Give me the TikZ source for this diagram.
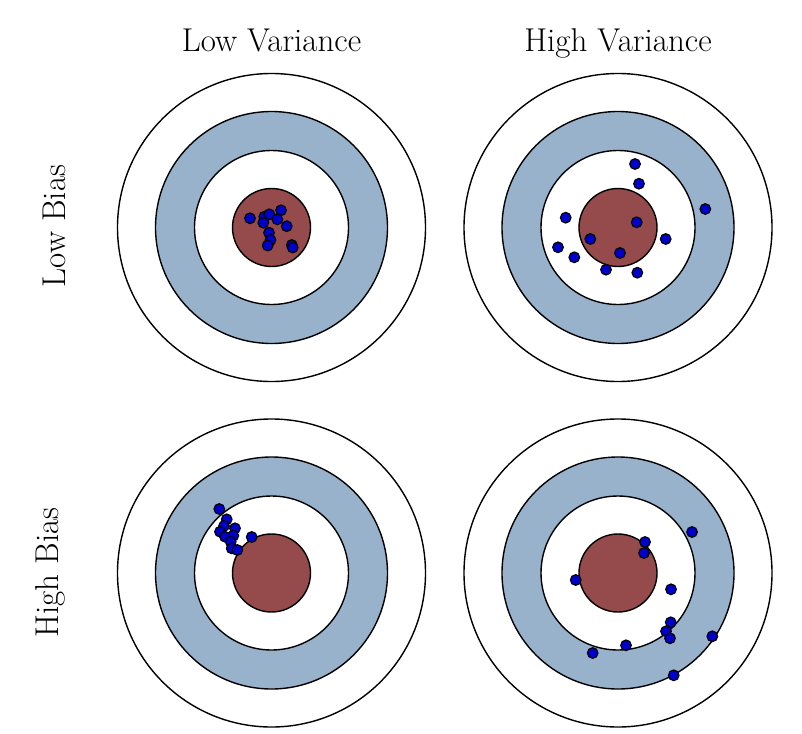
\documentclass[tikz,border=0pt]{standalone}
\usepackage{tikz}
\definecolor{ringblue}{HTML}{98B2CC}
\definecolor{bullred}{HTML}{954B4B}
\definecolor{dotblue}{HTML}{0000CC}
\tikzset{
  ring/.style={draw=black, line width=1.4pt},
  shot/.style={draw=black, fill=dotblue, line width=1.2pt},
  header/.style={font=\fontsize{33}{40}\selectfont, anchor=base, inner sep=0pt},
  sidelabel/.style={font=\fontsize{33}{40}\selectfont, anchor=base, rotate=90, inner sep=0pt}
}
\newcommand{\drawtarget}[2]{%
  \fill[ring, fill=white] (#1,#2) circle (154pt);
  \fill[ring, fill=ringblue] (#1,#2) circle (116pt);
  \fill[ring, fill=white] (#1,#2) circle (77pt);
  \fill[ring, fill=bullred] (#1,#2) circle (39pt);
}
\begin{document}
\begin{tikzpicture}[x=1pt,y=-1pt]
\useasboundingbox (0,0) rectangle (802,733);
% targets
\drawtarget{271.5}{227.5}
\drawtarget{618}{227.5}
\drawtarget{271.5}{573}
\drawtarget{618}{573}
% labels
\node[header] (lowvar) at (271.5,52) {Low Variance};
\node[header] (highvar) at (618,52) {High Variance};
\node[sidelabel] (lowbias) at (65,226) {Low Bias};
\node[sidelabel] (highbias) at (58.5,572.5) {High Bias};
% low bias, low variance
\foreach \x/\y in {250/218.3, 264.3/216.7, 263.3/222.7, 269.3/214.3, 281/210.3, 277.3/219.3, 286.7/226.2, 269/232.7, 270.5/240, 267.7/245.5, 291.8/245, 292.7/247.5}
  \filldraw[shot] (\x,\y) circle (5.3pt);
% low bias, high variance
\foreach \x/\y in {635/164, 639/183.7, 705.3/209, 565.7/217.7, 636.7/222.3, 590.3/239, 665.7/239, 558/247.3, 620/253, 574.3/257.3, 606/269.7, 637.3/272.7}
  \filldraw[shot] (\x,\y) circle (5.3pt);
% high bias, low variance
\foreach \x/\y in {219.3/509, 226.7/519.3, 224/526, 235/528.3, 220/531.7, 233.3/535.7, 225/536.7, 230.7/541.7, 231.7/548.3, 237.3/550, 251.7/537}
  \filldraw[shot] (\x,\y) circle (5.3pt);
% high bias, high variance
\foreach \x/\y in {692/532, 645/542, 644/553, 575.7/580, 671/589.3, 670.7/622.3, 666/631.3, 670/638.3, 712.3/636.3, 626/645.3, 592.7/653, 673.7/675.3}
  \filldraw[shot] (\x,\y) circle (5.3pt);
\end{tikzpicture}
\end{document}
